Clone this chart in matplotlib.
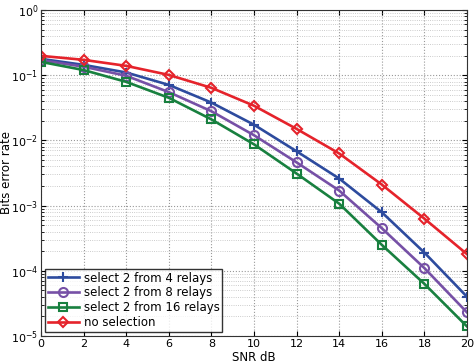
import matplotlib
matplotlib.use("Agg")
import matplotlib.pyplot as plt
from matplotlib.ticker import LogLocator, NullFormatter

snr = [0, 2, 4, 6, 8, 10, 12, 14, 16, 18, 20]
ber_4 = [0.178, 0.144, 0.110, 0.071, 0.038, 0.0174, 0.0068, 0.0026, 7.9e-4, 1.9e-4, 4.0e-5]
ber_8 = [0.170, 0.135, 0.098, 0.055, 0.028, 0.0120, 0.0046, 0.0017, 4.5e-4, 1.1e-4, 2.3e-5]
ber_16 = [0.160, 0.120, 0.079, 0.045, 0.021, 0.0087, 0.0031, 0.00107, 2.5e-4, 6.3e-5, 1.4e-5]
ber_none = [0.198, 0.172, 0.139, 0.101, 0.064, 0.034, 0.015, 0.0063, 0.0021, 6.3e-4, 1.8e-4]
labels = ["select 2 from 4 relays", "select 2 from 8 relays",
          "select 2 from 16 relays", "no selection"]
xticks = [0, 2, 4, 6, 8, 10, 12, 14, 16, 18, 20]

fig = plt.figure(figsize=(4.74, 3.63), dpi=100)
ax = fig.add_axes([41/474, 27/363, 426/474, 326/363])

styles = [
    (ber_4, "#2D4B9E", "+", 7),
    (ber_8, "#7650A6", "o", 6.5),
    (ber_16, "#18803F", "s", 5.5),
    (ber_none, "#E5232B", "D", 5.5),
]
for (vals, c, m, ms), lab in zip(styles, labels):
    ax.semilogy(snr, vals, color=c, marker=m, markersize=ms, lw=1.9,
                markerfacecolor="none", markeredgewidth=1.5, label=lab)

ax.set_xlim(0, 20)
ax.set_ylim(1e-5, 1)
ax.set_xticks(xticks)
ax.yaxis.set_major_locator(LogLocator(base=10, numticks=10))
ax.yaxis.set_minor_locator(LogLocator(base=10, subs=range(2, 10), numticks=50))
ax.yaxis.set_minor_formatter(NullFormatter())
ax.grid(True, which="major", linestyle=":", color="#999999", lw=0.8)
ax.grid(True, which="minor", linestyle=":", color="#bbbbbb", lw=0.6)
ax.tick_params(direction="in", top=True, right=True, which="both", labelsize=8)
ax.tick_params(axis="x", pad=2)
ax.tick_params(axis="y", pad=2)
for s in ax.spines.values():
    s.set_color("#333333")

ax.set_xlabel("SNR dB", fontsize=8.5)
ax.set_ylabel("Bits error rate", fontsize=8.5)
ax.xaxis.set_label_coords(0.5, -0.047)
ax.yaxis.set_label_coords(-0.066, 0.5)

leg = ax.legend(loc="lower left", fontsize=8.5, frameon=True, fancybox=False,
                edgecolor="black", borderaxespad=0.35, handlelength=2.6,
                handletextpad=0.4, labelspacing=0.15, borderpad=0.25)
leg.get_frame().set_linewidth(1.0)

fig.savefig("out.png", dpi=100)
